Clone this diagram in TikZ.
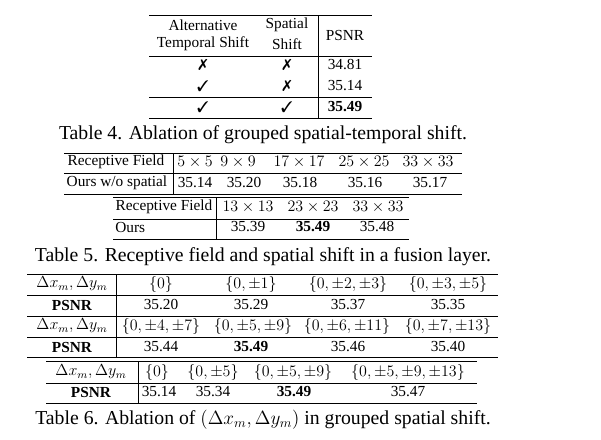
\documentclass[tikz,border=0pt]{standalone}
\usepackage{fontspec}
\setmainfont{Liberation Serif}
\usepackage{pifont}
\begin{document}
\begin{tikzpicture}[x=0.75pt,y=-0.75pt,
  t/.style={inner sep=0pt,font=\fontsize{11.5}{12}\selectfont,anchor=center},
  captxt/.style={inner sep=0pt,font=\fontsize{14.8}{16}\selectfont,anchor=center},
  rl/.style={line width=0.7pt}]
\useasboundingbox (0,0) rectangle (601,440);
% Table 4
\draw[rl] (149,15.5) -- (372,15.5);
\draw[rl] (149,56) -- (372,56);
\draw[rl] (149,97) -- (372,97);
\draw[rl] (149,118) -- (372,118);
\draw[rl] (318,15.5) -- (318,118);
\node[t] (a1) at (203,25) {Alternative};
\node[t] (a2) at (203,44) {Temporal Shift};
\node[t] (a3) at (287,25) {Spatial};
\node[t] (a4) at (287,44) {Shift};
\node[t] (a5) at (345,35) {PSNR};
\node[t] (b1) at (203,65) {\ding{55}};
\node[t] (b2) at (287,65) {\ding{55}};
\node[t] (b3) at (345,65) {34.81};
\node[t] (c1) at (203,86) {\ding{51}};
\node[t] (c2) at (287,86) {\ding{55}};
\node[t] (c3) at (345,86) {35.14};
\node[t] (d1) at (203,107) {\ding{51}};
\node[t] (d2) at (287,107) {\ding{51}};
\node[t] (d3) at (345,107) {\textbf{35.49}};
\node[captxt] (cap4) at (263,135) {Table 4. Ablation of grouped spatial-temporal shift.};
% Table 5a
\draw[rl] (64,153) -- (462,153);
\draw[rl] (64,173) -- (462,173);
\draw[rl] (64,194) -- (462,194);
\draw[rl] (173,153) -- (173,194);
\node[t] (e0) at (116,162) {Receptive Field};
\node[t] (e1) at (195,162) {$5\times5$};
\node[t] (e2) at (238,162) {$9\times9$};
\node[t] (e3) at (299,162) {$17\times17$};
\node[t] (e4) at (364,162) {$25\times25$};
\node[t] (e5) at (428,162) {$33\times33$};
\node[t] (f0) at (117,183) {Ours w/o spatial};
\node[t] (f1) at (195,183) {35.14};
\node[t] (f2) at (244,183) {35.20};
\node[t] (f3) at (300,183) {35.18};
\node[t] (f4) at (365,183) {35.16};
\node[t] (f5) at (430,183) {35.17};
% Table 5b
\draw[rl] (113,197) -- (409,197);
\draw[rl] (113,219) -- (409,219);
\draw[rl] (113,239) -- (409,239);
\draw[rl] (216,197) -- (216,239);
\node[t] (g0) at (164,207) {Receptive Field};
\node[t] (g1) at (248,207) {$13\times13$};
\node[t] (g2) at (313,207) {$23\times23$};
\node[t] (g3) at (378,207) {$33\times33$};
\node[t,anchor=west] (h0) at (115,227) {Ours};
\node[t] (h1) at (248,227) {35.39};
\node[t] (h2) at (313,227) {\textbf{35.49}};
\node[t] (h3) at (377,227) {35.48};
\node[captxt] (cap5) at (263,257) {Table 5. Receptive field and spatial shift in a fusion layer.};
% Table 6a
\draw[rl] (27,274) -- (498,274);
\draw[rl] (27,295) -- (498,295);
\draw[rl] (27,316) -- (498,316);
\draw[rl] (27,337) -- (498,337);
\draw[rl] (27,357) -- (498,357);
\draw[rl] (116,274) -- (116,357);
\node[t] (i0) at (72,284) {$\Delta x_m,\Delta y_m$};
\node[t] (i1) at (161,284) {$\{0\}$};
\node[t] (i2) at (251,284) {$\{0,\pm1\}$};
\node[t] (i3) at (348,284) {$\{0,\pm2,\pm3\}$};
\node[t] (i4) at (448,284) {$\{0,\pm3,\pm5\}$};
\node[t] (j0) at (72,305) {\textbf{PSNR}};
\node[t] (j1) at (161,305) {35.20};
\node[t] (j2) at (251,305) {35.29};
\node[t] (j3) at (348,305) {35.37};
\node[t] (j4) at (448,305) {35.35};
\node[t] (k0) at (72,326) {$\Delta x_m,\Delta y_m$};
\node[t] (k1) at (161,326) {$\{0,\pm4,\pm7\}$};
\node[t] (k2) at (253,326) {$\{0,\pm5,\pm9\}$};
\node[t] (k3) at (347,326) {$\{0,\pm6,\pm11\}$};
\node[t] (k4) at (448,326) {$\{0,\pm7,\pm13\}$};
\node[t] (l0) at (72,347) {\textbf{PSNR}};
\node[t] (l1) at (161,347) {35.44};
\node[t] (l2) at (251,347) {\textbf{35.49}};
\node[t] (l3) at (348,347) {35.46};
\node[t] (l4) at (448,347) {35.40};
% Table 6b
\draw[rl] (46,361) -- (477,361);
\draw[rl] (46,383) -- (477,383);
\draw[rl] (46,403) -- (477,403);
\draw[rl] (138,361) -- (138,403);
\node[t] (m0) at (91,372) {$\Delta x_m,\Delta y_m$};
\node[t] (m1) at (157,372) {$\{0\}$};
\node[t] (m2) at (213,372) {$\{0,\pm5\}$};
\node[t] (m3) at (293,372) {$\{0,\pm5,\pm9\}$};
\node[t] (m4) at (408,372) {$\{0,\pm5,\pm9,\pm13\}$};
\node[t] (n0) at (91,392) {\textbf{PSNR}};
\node[t] (n1) at (159,392) {35.14};
\node[t] (n2) at (213,392) {35.34};
\node[t] (n3) at (294,392) {\textbf{35.49}};
\node[t] (n4) at (408,392) {35.47};
\node[captxt] (cap6) at (263,420) {Table 6. Ablation of $(\Delta x_m,\Delta y_m)$ in grouped spatial shift.};
\end{tikzpicture}
\end{document}
